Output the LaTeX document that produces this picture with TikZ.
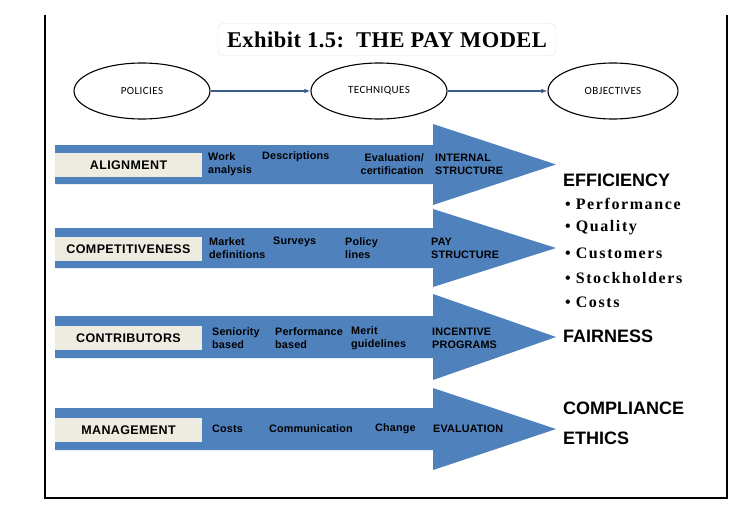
\documentclass[tikz,border=0pt]{standalone}
\usepackage{fontspec}
\setmainfont{Liberation Serif}
\newfontfamily\arialf{Liberation Sans}
\newfontfamily\arialsp{Liberation Sans}[LetterSpace=3]
\newfontfamily\arialin{Liberation Sans}[LetterSpace=1.5]
\newfontfamily\calib{Carlito}[LetterSpace=4]
\newfontfamily\spacedserif{Liberation Serif}[LetterSpace=10]
\newfontfamily\titleserif{Liberation Serif}[LetterSpace=2]
\usetikzlibrary{shapes.geometric,arrows.meta}
\definecolor{arrowblue}{HTML}{4F81BD}
\definecolor{labelbg}{HTML}{EEECE1}
\definecolor{flowblue}{HTML}{385D8A}
\tikzset{
  bigarrow/.style={fill=arrowblue, draw=none},
  lbl/.style={fill=labelbg, minimum width=147pt, minimum height=24pt, inner sep=0pt,
    font=\arialsp\bfseries\fontsize{12.5}{14}\selectfont},
  innertxt/.style={inner sep=0pt, anchor=west, align=left,
    font=\arialin\bfseries\fontsize{10.8}{13}\selectfont},
  oval/.style={ellipse, draw, line width=1.1pt, minimum width=136pt, minimum height=56pt,
    inner sep=0pt, font=\calib\fontsize{11}{13}\selectfont},
  flow/.style={-{Latex[length=6pt,width=4.5pt]}, draw=flowblue, line width=1.2pt},
  objective/.style={anchor=west, inner sep=0pt, font=\arialf\bfseries\fontsize{18}{21}\selectfont},
  bulletitem/.style={anchor=west, inner sep=0pt, font=\spacedserif\bfseries\fontsize{16}{19}\selectfont},
}
\begin{document}
\begin{tikzpicture}[x=1pt,y=-1pt]
\useasboundingbox (0,0) rectangle (748,514);
\fill[white] (0,0) rectangle (748,514);
% frame
\draw[line width=1.3pt] (45,15) -- (45,498) -- (727,498) -- (727,15);
% title
\node[draw=black!12, rounded corners=5pt, fill=white, minimum width=338pt, minimum height=32pt,
  inner sep=0pt, font=\titleserif\bfseries\fontsize{22.5}{25}\selectfont] (title) at (387,39.5)
  {Exhibit 1.5:\ \ THE PAY MODEL};
% ellipses
\node[oval] (pol) at (142,91) {POLICIES};
\node[oval] (tech) at (379,91) {TECHNIQUES};
\node[oval, minimum width=130pt] (obj) at (613,91) {OBJECTIVES};
\draw[flow] (pol) -- (tech);
\draw[flow] (tech) -- (obj);
% big arrows
\fill[bigarrow] (55,145) -- (433,145) -- (433,124) -- (556,164.5) -- (433,205) -- (433,184) -- (55,184) -- cycle;
\fill[bigarrow] (55,228) -- (433,228) -- (433,209) -- (556,248) -- (433,287) -- (433,268) -- (55,268) -- cycle;
\fill[bigarrow] (55,316) -- (433,316) -- (433,294) -- (556,337) -- (433,380) -- (433,358) -- (55,358) -- cycle;
\fill[bigarrow] (55,408) -- (433,408) -- (433,388) -- (556,429) -- (433,470) -- (433,450) -- (55,450) -- cycle;
% row 1
\node[lbl] (l1) at (128.5,165) {ALIGNMENT};
\node[innertxt] (a1) at (208,164) {Work\\analysis};
\node[innertxt] (a2) at (262,157) {Descriptions};
\node[innertxt, anchor=east, align=right] (a3) at (424,164) {Evaluation/\\certification};
\node[innertxt] (a4) at (435,164) {INTERNAL\\STRUCTURE};
% row 2
\node[lbl] (l2) at (128.5,249) {COMPETITIVENESS};
\node[innertxt] (b1) at (209,248) {Market\\definitions};
\node[innertxt] (b2) at (273,242) {Surveys};
\node[innertxt] (b3) at (345,248) {Policy\\lines};
\node[innertxt] (b4) at (431,248) {PAY\\STRUCTURE};
% row 3
\node[lbl] (l3) at (128.5,338) {CONTRIBUTORS};
\node[innertxt] (c1) at (212,338) {Seniority\\based};
\node[innertxt] (c2) at (275,338) {Performance\\based};
\node[innertxt] (c3) at (351,338) {Merit\\guidelines};
\node[innertxt] (c4) at (432,338) {INCENTIVE\\PROGRAMS};
% row 4
\node[lbl] (l4) at (128.5,430) {MANAGEMENT};
\node[innertxt] (d1) at (212,429) {Costs};
\node[innertxt] (d2) at (269,429) {Communication};
\node[innertxt] (d3) at (375,429) {Change};
\node[innertxt] (d4) at (433,429) {EVALUATION};
% objectives
\node[objective] (eff) at (563,180) {EFFICIENCY};
\node[bulletitem] (o1) at (565,204) {•\hspace{5pt}Performance};
\node[bulletitem] (o2) at (565,228) {•\hspace{5pt}Quality};
\node[bulletitem] (o3) at (565,253) {•\hspace{5pt}Customers};
\node[bulletitem] (o4) at (565,278) {•\hspace{5pt}Stockholders};
\node[bulletitem] (o5) at (565,302) {•\hspace{5pt}Costs};
\node[objective] (fair) at (563,336) {FAIRNESS};
\node[objective] (comp) at (563,408) {COMPLIANCE};
\node[objective] (eth) at (563,438) {ETHICS};
\end{tikzpicture}
\end{document}
